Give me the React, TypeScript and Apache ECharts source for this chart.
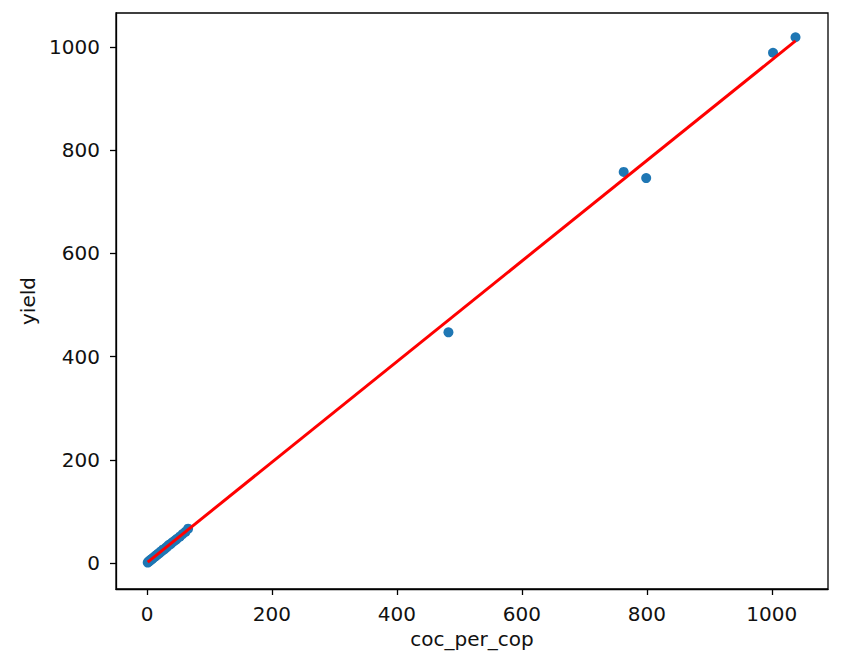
import React, { useEffect, useRef } from "react";
import * as echarts from "echarts";

const cocPerCop = [1.2, 2.5, 3.8, 5.1, 6.4, 8.0, 9.5, 11.2, 12.8, 14.5, 16.3, 18.0, 19.9, 21.7, 23.6, 25.4, 27.5, 29.8, 32.0, 34.6, 37.1, 39.8, 42.5, 45.3, 48.0, 52.4, 57.0, 61.5, 65.8, 482.5, 763, 799, 1002, 1038];
const yieldValues = [0.8, 2.9, 3.2, 5.6, 6.0, 8.3, 9.1, 11.6, 12.1, 14.9, 15.6, 18.4, 19.0, 21.9, 22.8, 25.9, 26.4, 29.3, 31.2, 34.9, 36.0, 39.1, 41.6, 44.0, 46.8, 51.0, 56.1, 60.2, 66.5, 447, 758, 746, 989, 1019];
const fitX = [1.2, 1038];
const fitY = [1.7, 1012];
const tickValues = [0, 200, 400, 600, 800, 1000];

const FONT = "DejaVu Sans";

export default function App() {
  const ref = useRef<HTMLDivElement>(null);
  useEffect(() => {
    if (!ref.current) return;
    const chart = echarts.init(ref.current, null, { renderer: "svg" });
    const axisCommon = {
      type: "value" as const,
      splitLine: { show: false },
      axisLine: { show: true, onZero: false, lineStyle: { color: "#000", width: 1.3 } },
      axisTick: { show: true, customValues: tickValues, length: 6, lineStyle: { color: "#000", width: 1.3 } },
      nameLocation: "middle" as const,
      nameTextStyle: { fontFamily: FONT, fontSize: 20, color: "#111" },
    };
    const labelCommon = {
      customValues: tickValues,
      fontFamily: FONT,
      fontSize: 20,
      color: "#111",
      formatter: (v: number) => String(v),
    };
    chart.setOption({
      animation: false,
      backgroundColor: "#fff",
      grid: {
        left: 116,
        right: 13,
        top: 13,
        bottom: 82,
        show: true,
        borderColor: "#000",
        borderWidth: 1.3,
        containLabel: false,
      },
      xAxis: {
        ...axisCommon,
        min: -49.6,
        max: 1090,
        name: "coc_per_cop",
        nameGap: 32,
        axisLabel: { ...labelCommon, margin: 15 },
      },
      yAxis: {
        ...axisCommon,
        min: -50.4,
        max: 1066,
        name: "yield",
        nameGap: 75,
        axisLabel: { ...labelCommon, margin: 16 },
      },
      series: [
        {
          type: "scatter",
          data: cocPerCop.map((x, i) => [x, yieldValues[i]]),
          symbolSize: 10,
          itemStyle: { color: "#1f77b4", opacity: 1 },
          z: 2,
        },
        {
          type: "line",
          data: fitX.map((x, i) => [x, fitY[i]]),
          showSymbol: false,
          symbol: "none",
          lineStyle: { color: "#ff0000", width: 3 },
          z: 3,
        },
      ],
    });
    return () => chart.dispose();
  }, []);
  return (
    <div
      ref={ref}
      style={{ position: "absolute", left: 0, top: 0, width: 841, height: 671 }}
    />
  );
}
